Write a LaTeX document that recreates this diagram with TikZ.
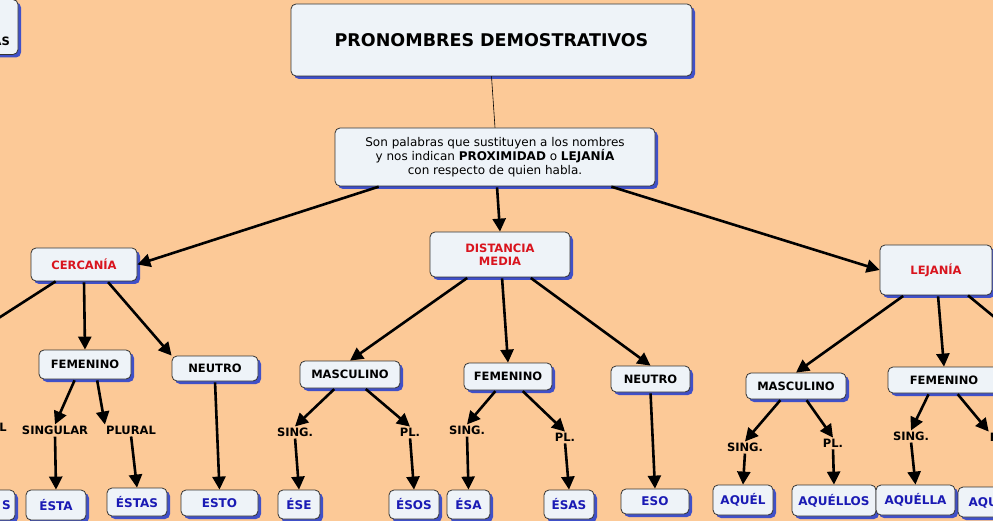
\documentclass[tikz,border=0pt]{standalone}
\usepackage{fontspec}
\setmainfont{DejaVu Sans}
\usetikzlibrary{arrows.meta,shadows}
\definecolor{bg}{HTML}{FCC997}
\definecolor{boxfill}{HTML}{EEF3F8}
\definecolor{shad}{HTML}{4050C8}
\definecolor{redt}{HTML}{D9141E}
\definecolor{bluet}{HTML}{1A1AB4}
\tikzset{
 box/.style={draw=black!80,line width=0.8pt,fill=boxfill,rounded corners=5pt,inner sep=0pt,align=center,
   drop shadow={fill=shad,opacity=1,shadow xshift=3pt,shadow yshift=-3pt},font=\bfseries\fontsize{11.5}{13}\selectfont},
 redbox/.style={box,text=redt},
 bluebox/.style={box,text=bluet,font=\bfseries\fontsize{12}{13}\selectfont},
 lbl/.style={inner sep=1pt,font=\bfseries\fontsize{11.5}{13}\selectfont},
 arr/.style={line width=2.6pt,-{Triangle[length=13pt,width=13pt]},shorten <=1pt},
 ln/.style={line width=2.6pt}
}
\begin{document}
\begin{tikzpicture}[x=1pt,y=-1pt]
\useasboundingbox (0,0) rectangle (993,521);
\fill[bg] (0,0) rectangle (993,521);
\clip (0,0) rectangle (993,521);
% top level
\node[box,minimum width=72pt,minimum height=55pt] (tl) at (-18,27) {};
\node[lbl,anchor=east,inner sep=0pt] (tlt) at (10,41) {AS};
\node[box,minimum width=401pt,minimum height=72pt,font=\bfseries\fontsize{17.5}{20}\selectfont] (title) at (491.5,40) {PRONOMBRES DEMOSTRATIVOS};
\node[box,minimum width=320pt,minimum height=58pt,font=\fontsize{12}{14}\selectfont] (def) at (495,157)
 {Son palabras que sustituyen a los nombres\\ y nos indican \textbf{PROXIMIDAD} o \textbf{LEJANÍA}\\ con respecto de quien habla.};
\draw[line width=0.6pt] (title.south) -- (def.north);
% second level
\node[redbox,minimum width=106pt,minimum height=33pt] (cer) at (84,264.5) {CERCANÍA};
\node[redbox,minimum width=140pt,minimum height=45pt] (dist) at (500,254.5) {DISTANCIA\\MEDIA};
\node[redbox,minimum width=112pt,minimum height=50pt] (lej) at (936,270) {LEJANÍA};
\draw[arr] (def.south west)++(45,0) coordinate (d1) -- (cer.east);
\draw[arr] (def.south) ++(2,0) coordinate (d2) -- (dist.north);
\draw[arr] (def.south east)++(-45,0) coordinate (d3) -- (lej.west);
% cercania
\coordinate (offL) at (-20,330);
\node[box,minimum width=92pt,minimum height=29pt] (fem1) at (85,364.5) {FEMENINO};
\node[box,minimum width=86pt,minimum height=25pt] (neu1) at (215,368.5) {NEUTRO};
\draw[ln] (cer.south west)++(25,0) coordinate (c0) -- (offL);
\draw[arr] (cer.south) -- (fem1.north);
\draw[arr] (cer.south east)++(-30,0) coordinate (c1) -- (neu1.north west);
\node[lbl] (l1) at (3,427) {L};
\node[lbl] (sing1) at (55,430) {SINGULAR};
\node[lbl] (pl1) at (131,430) {PLURAL};
\draw[arr] (fem1.south)++(-10,0) coordinate (f1a) -- (sing1.north);
\draw[arr] (fem1.south)++(12,0) coordinate (f1b) -- (pl1.north west);
\node[bluebox,minimum width=70pt,minimum height=30pt] (s0) at (-20,505) {};
\node[inner sep=0pt,anchor=east,text=bluet,font=\bfseries\fontsize{12}{13}\selectfont] (s0t) at (11,505) {S};
\node[bluebox,minimum width=60pt,minimum height=30pt] (esta) at (56,505) {ÉSTA};
\node[bluebox,minimum width=60pt,minimum height=28pt] (estas) at (137,502) {ÉSTAS};
\node[bluebox,minimum width=77pt,minimum height=26pt] (esto) at (219.5,503) {ESTO};
\draw[arr] (sing1.south) -- (esta.north);
\draw[arr] (pl1.south) -- (estas.north);
\draw[arr] (neu1.south) -- (esto.north);
% distancia
\node[box,minimum width=100pt,minimum height=27pt] (masc2) at (350,374.5) {MASCULINO};
\node[box,minimum width=88pt,minimum height=27pt] (fem2) at (508,376.5) {FEMENINO};
\node[box,minimum width=79pt,minimum height=26pt] (neu2) at (650.5,379) {NEUTRO};
\draw[arr] (dist.south)++(-32,0) coordinate (da) -- (masc2.north);
\draw[arr] (dist.south)++(2,0) coordinate (db) -- (fem2.north);
\draw[arr] (dist.south)++(30,0) coordinate (dc) -- (neu2.north);
\node[lbl] (sing2) at (295,432) {SING.};
\node[lbl] (pl2) at (410,432) {PL.};
\node[lbl] (sing3) at (467,430) {SING.};
\node[lbl] (pl3) at (565,437) {PL.};
\draw[arr] (masc2.south)++(-15,0) coordinate (m2a) -- (sing2.north);
\draw[arr] (masc2.south)++(15,0) coordinate (m2b) -- (pl2.north);
\draw[arr] (fem2.south)++(-12,0) coordinate (f2a) -- (sing3.north);
\draw[arr] (fem2.south)++(14,0) coordinate (f2b) -- (pl3.north);
\node[bluebox,minimum width=42pt,minimum height=29pt] (ese) at (299,504.5) {ÉSE};
\node[bluebox,minimum width=50pt,minimum height=29pt] (esos) at (414,504.5) {ÉSOS};
\node[bluebox,minimum width=43pt,minimum height=29pt] (esa) at (468.5,504.5) {ÉSA};
\node[bluebox,minimum width=50pt,minimum height=29pt] (esas) at (569,504.5) {ÉSAS};
\node[bluebox,minimum width=68pt,minimum height=25pt] (eso) at (655,501.5) {ESO};
\draw[arr] (sing2.south) -- (ese.north);
\draw[arr] (pl2.south) -- (esos.north);
\draw[arr] (sing3.south) -- (esa.north);
\draw[arr] (pl3.south) -- (esas.north);
\draw[arr] (neu2.south) -- (eso.north);
% lejania
\coordinate (offR) at (1010,330);
\node[box,minimum width=100pt,minimum height=26pt] (masc3) at (796,386) {MASCULINO};
\node[box,minimum width=112pt,minimum height=26pt] (fem3) at (944,380) {FEMENINO};
\draw[arr] (lej.south)++(-32,0) coordinate (la) -- (masc3.north);
\draw[arr] (lej.south)++(2,0) coordinate (lb) -- (fem3.north);
\draw[ln] (lej.south)++(32,0) coordinate (lc) -- (offR);
\node[lbl] (sing4) at (745,447) {SING.};
\node[lbl] (pl4) at (833,443) {PL.};
\node[lbl] (sing5) at (911,436) {SING.};
\node[lbl] (pl5) at (1000,437) {PL.};
\draw[arr] (masc3.south)++(-15,0) coordinate (m3a) -- (sing4.north);
\draw[arr] (masc3.south)++(10,0) coordinate (m3b) -- (pl4.north);
\draw[arr] (fem3.south)++(-15,0) coordinate (f3a) -- (sing5.north);
\draw[arr] (fem3.south)++(13,0) coordinate (f3b) -- (pl5.north west);
\node[bluebox,minimum width=60pt,minimum height=30pt] (aquel) at (743,500) {AQUÉL};
\node[bluebox,minimum width=84pt,minimum height=31pt] (aquellos) at (834,500.5) {AQUÉLLOS};
\node[bluebox,minimum width=79pt,minimum height=30pt] (aquella) at (915.5,500) {AQUÉLLA};
\node[bluebox,minimum width=92pt,minimum height=30pt] (aquellas) at (1004,502) {AQUÉLLAS};
\draw[arr] (sing4.south) -- (aquel.north);
\draw[arr] (pl4.south) -- (aquellos.north);
\draw[arr] (sing5.south) -- (aquella.north);
\draw[arr] (pl5.south) -- (aquellas.north);
\end{tikzpicture}
\end{document}
